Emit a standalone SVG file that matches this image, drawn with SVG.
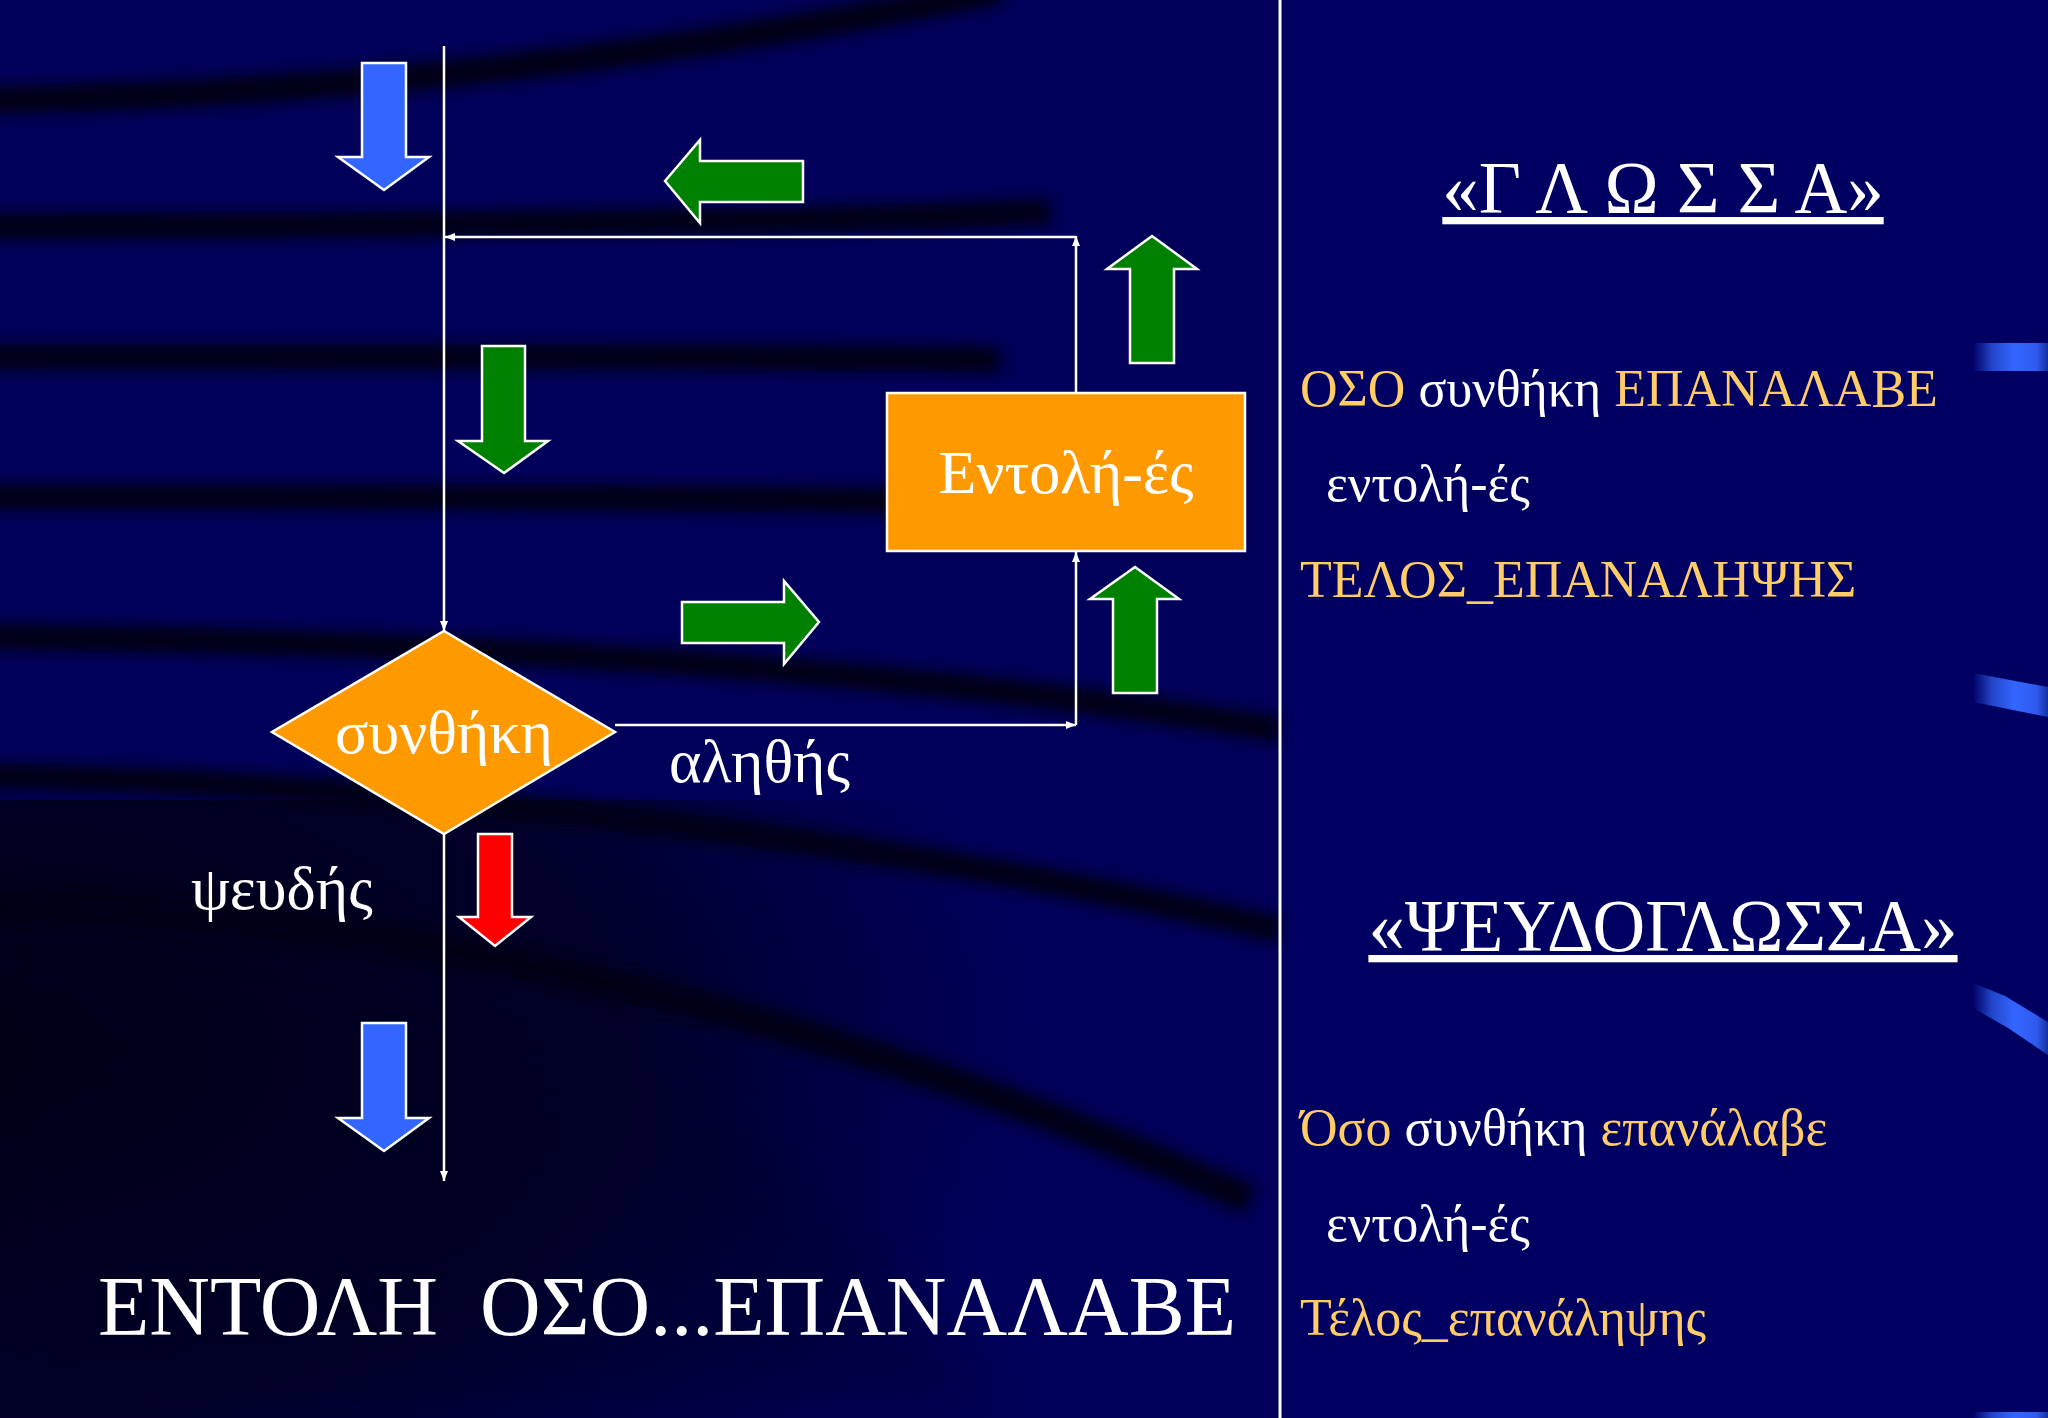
<svg xmlns="http://www.w3.org/2000/svg" width="2048" height="1418" viewBox="0 0 2048 1418">
<style>
.lbl{font-family:"Liberation Serif","Times New Roman",serif;fill:#ffffff}
.gold{fill:#FFCC66}
.conn{stroke:#ffffff;stroke-width:2.5;fill:none}
.barrow{stroke:#ffffff;stroke-width:2.5;stroke-linejoin:miter}
.green{fill:#008000}
.blue{fill:#3366FF}
.red{fill:#FF0000}
.band{fill:none;stroke:#000018;stroke-linecap:butt}
</style>
<defs>
<marker id="ah" viewBox="0 0 10 8" refX="10" refY="4" markerWidth="10" markerHeight="8" markerUnits="userSpaceOnUse" orient="auto">
<path d="M0,0 L10,4 L0,8 Z" fill="#ffffff"/>
</marker>
<filter id="blur" x="-10%" y="-50%" width="120%" height="200%"><feGaussianBlur stdDeviation="7"/></filter>
<filter id="blur2" x="-20%" y="-20%" width="140%" height="140%"><feGaussianBlur stdDeviation="30"/></filter>
<linearGradient id="fadeR" x1="0" y1="0" x2="1" y2="0">
<stop offset="0" stop-color="#000018" stop-opacity="0.9"/>
<stop offset="0.6" stop-color="#000018" stop-opacity="0.6"/>
<stop offset="1" stop-color="#000018" stop-opacity="0"/>
</linearGradient>
<linearGradient id="deco" x1="0" y1="0" x2="1" y2="0">
<stop offset="0" stop-color="#000066"/>
<stop offset="0.25" stop-color="#2244C8"/>
<stop offset="0.55" stop-color="#3366FF"/>
<stop offset="0.85" stop-color="#2F5AEE"/>
<stop offset="1" stop-color="#1530A0"/>
</linearGradient>
<radialGradient id="corner" cx="0" cy="1050" r="800" gradientUnits="userSpaceOnUse" gradientTransform="translate(0,1050) scale(1.3,0.75) translate(0,-1050)">
<stop offset="0" stop-color="#000010" stop-opacity="0.95"/>
<stop offset="0.6" stop-color="#000015" stop-opacity="0.7"/>
<stop offset="1" stop-color="#000020" stop-opacity="0"/>
</radialGradient>
</defs>

<g id="background">
<rect x="0" y="0" width="2048" height="1418" fill="#000062"/>
<rect x="0" y="0" width="1280" height="1418" fill="#00005A"/>
<rect x="0" y="800" width="1280" height="618" fill="url(#corner)"/>
<g filter="url(#blur)">
<path class="band" stroke="url(#fadeR)" stroke-width="28" d="M-20,100 C300,96 650,62 1000,-10"/>
<path class="band" stroke="url(#fadeR)" stroke-width="26" d="M-20,226 C400,226 800,222 1050,212"/>
<path class="band" stroke="url(#fadeR)" stroke-width="26" d="M-20,357 C400,358 700,355 1000,360"/>
<path class="band" stroke="url(#fadeR)" stroke-width="26" d="M-20,497 C400,497 800,496 1050,505"/>
<path class="band" stroke="url(#fadeR)" stroke-width="26" d="M-20,637 C400,640 900,665 1280,730"/>
<path class="band" stroke="url(#fadeR)" stroke-width="26" d="M-20,776 C400,782 900,840 1280,930"/>
<path class="band" stroke="url(#fadeR)" stroke-width="30" d="M-20,905 C300,910 750,975 1250,1200"/>
</g>
<path d="M0,930 C400,930 800,1050 1000,1418 L0,1418 Z" fill="#000020" opacity="0.35" filter="url(#blur2)"/>
<line x1="1280" y1="0" x2="1280" y2="1418" stroke="#ffffff" stroke-width="3"/>
<polygon points="1973,343 2048,343 2048,371 1973,371" fill="url(#deco)"/>
<polygon points="1973,673 2048,687 2048,717 1973,702" fill="url(#deco)"/>
<polygon points="1973,983 2005,996 2048,1022 2048,1055 2008,1028 1973,1008" fill="url(#deco)"/>
<polygon points="1973,1412 2048,1412 2048,1418 1973,1418" fill="url(#deco)"/>
</g>

<g id="connectors">
<line class="conn" x1="444" y1="46" x2="444" y2="631" marker-end="url(#ah)"/>
<line class="conn" x1="444" y1="834" x2="444" y2="1181" marker-end="url(#ah)"/>
<line class="conn" x1="1076" y1="393" x2="1076" y2="236" marker-end="url(#ah)"/>
<line class="conn" x1="1076" y1="237" x2="445" y2="237" marker-end="url(#ah)"/>
<line class="conn" x1="615" y1="725" x2="1076" y2="725" marker-end="url(#ah)"/>
<line class="conn" x1="1076" y1="725" x2="1076" y2="552" marker-end="url(#ah)"/>
</g>

<g id="node-condition">
<polygon points="444,631 615,732 444,834 272,732" fill="#FF9900" stroke="#ffffff" stroke-width="2.5"/>
<text class="lbl" x="444" y="753" font-size="62" text-anchor="middle">συνθήκη</text>
</g>

<g id="node-commands">
<rect x="887" y="393" width="358" height="158" fill="#FF9900" stroke="#ffffff" stroke-width="2.5"/>
<text class="lbl" x="1066" y="493" font-size="62" text-anchor="middle">Εντολή-ές</text>
</g>

<g id="label-true"><text class="lbl" x="669" y="782" font-size="62">αληθής</text></g>
<g id="label-false"><text class="lbl" x="191" y="909" font-size="62">ψευδής</text></g>

<g id="arrow-blue-top"><polygon class="barrow blue" points="362,63 406,63 406,157 429,157 384,190 338,157 362,157"/></g>
<g id="arrow-green-left"><polygon class="barrow green" points="665,181 700,140 700,161 803,161 803,202 700,202 700,223"/></g>
<g id="arrow-green-up-top"><polygon class="barrow green" points="1152,236 1197,269 1174,269 1174,363 1130,363 1130,269 1107,269"/></g>
<g id="arrow-green-down"><polygon class="barrow green" points="482,346 525,346 525,441 548,441 504,473 458,441 482,441"/></g>
<g id="arrow-green-right"><polygon class="barrow green" points="682,602 784,602 784,581 819,622 784,664 784,643 682,643"/></g>
<g id="arrow-green-up-bottom"><polygon class="barrow green" points="1135,567 1179,599 1157,599 1157,693 1113,693 1113,599 1090,599"/></g>
<g id="arrow-red-down"><polygon class="barrow red" points="478,834 512,834 512,917 531,917 495,946 459,917 478,917"/></g>
<g id="arrow-blue-bottom"><polygon class="barrow blue" points="362,1023 406,1023 406,1118 429,1118 384,1151 338,1118 362,1118"/></g>

<g id="title-bottom"><text class="lbl" x="98" y="1335" font-size="84" xml:space="preserve" style="white-space:pre">ΕΝΤΟΛΗ  ΟΣΟ...ΕΠΑΝΑΛΑΒΕ</text></g>

<g id="panel-language">
<text class="lbl" x="1663" y="213" font-size="73" text-anchor="middle" text-decoration="underline">«Γ Λ Ω Σ Σ Α»</text>
<text class="lbl" x="1300" y="406" font-size="52"><tspan class="gold">ΟΣΟ</tspan> συνθήκη <tspan class="gold">ΕΠΑΝΑΛΑΒΕ</tspan></text>
<text class="lbl" x="1326" y="501" font-size="52">εντολή-ές</text>
<text class="lbl gold" x="1300" y="597" font-size="52">ΤΕΛΟΣ_ΕΠΑΝΑΛΗΨΗΣ</text>
</g>

<g id="panel-pseudo">
<text class="lbl" x="1663" y="951" font-size="73" text-anchor="middle" text-decoration="underline">«ΨΕΥΔΟΓΛΩΣΣΑ»</text>
<text class="lbl" x="1300" y="1145" font-size="52"><tspan class="gold">Όσο</tspan> συνθήκη <tspan class="gold">επανάλαβε</tspan></text>
<text class="lbl" x="1326" y="1241" font-size="52">εντολή-ές</text>
<text class="lbl gold" x="1300" y="1335" font-size="52">Τέλος_επανάληψης</text>
</g>
</svg>
